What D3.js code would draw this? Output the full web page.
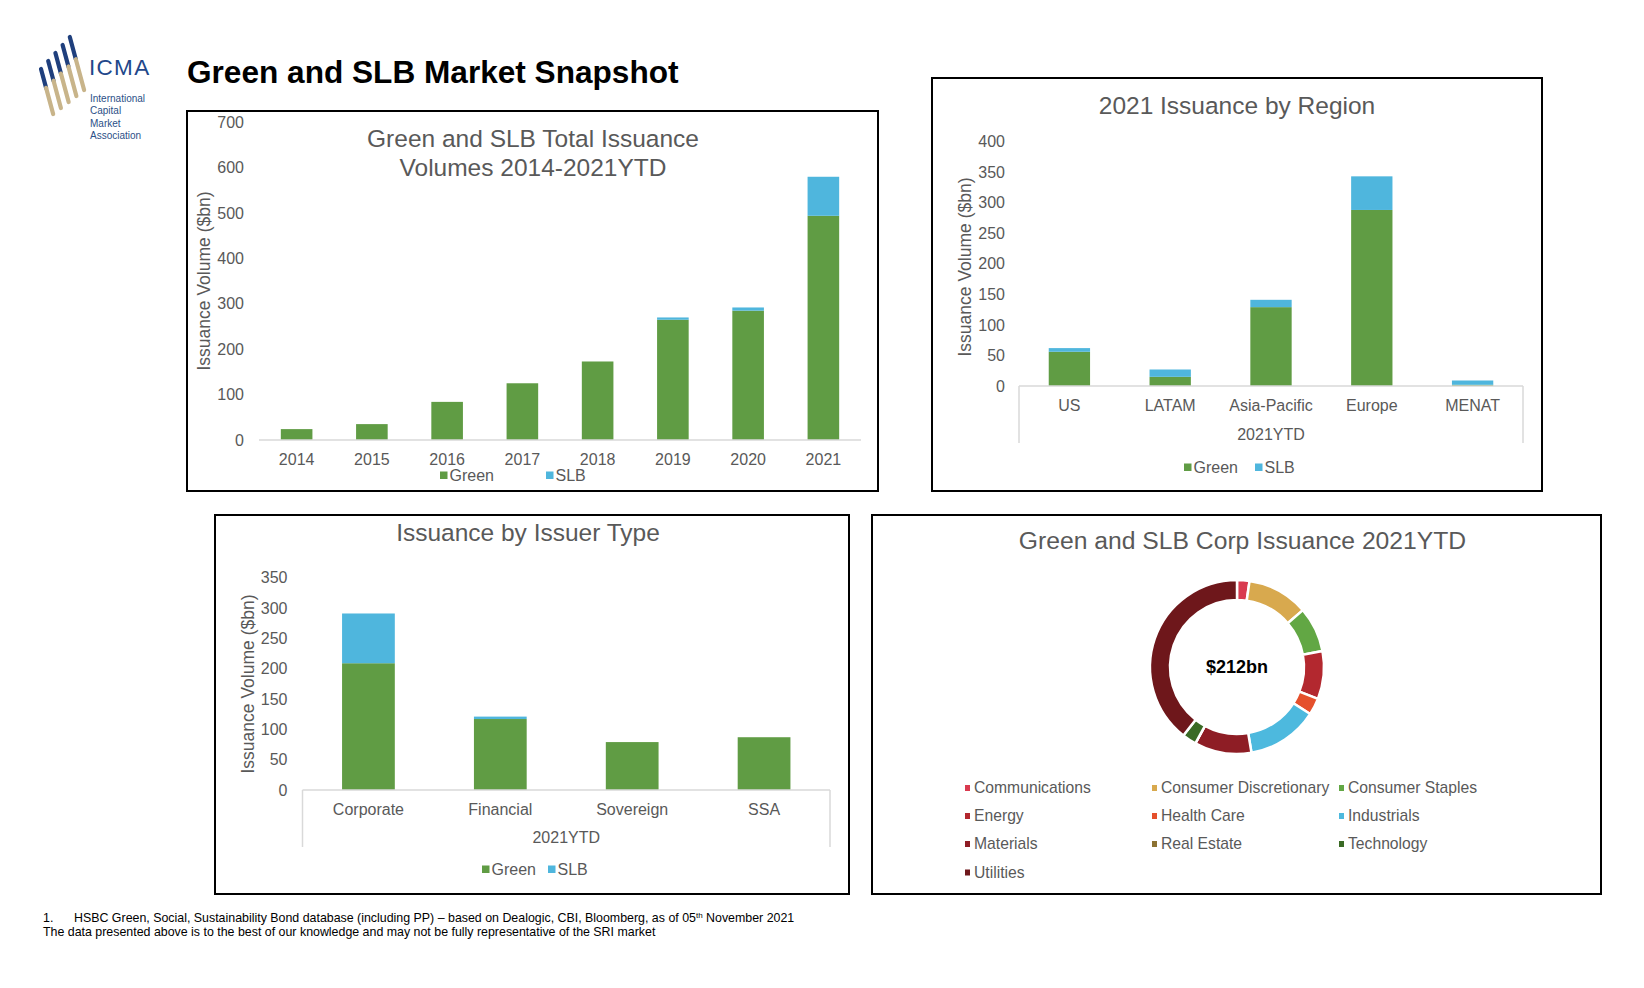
<!doctype html>
<html>
<head>
<meta charset="utf-8">
<script src="https://d3js.org/d3.v7.min.js"></script>
<style>
body { margin: 0; background: #fff; }
</style>
</head>
<body>
<svg id="page" width="1644" height="988"></svg>
<script>
// ---- data ----
var years = ["2014", "2015", "2016", "2017", "2018", "2019", "2020", "2021"];
var yearGreen = [24, 35, 84, 125, 173, 265, 285, 494];
var yearSlb = [0, 0, 0, 0, 0, 5, 7, 86];
var yearTicks = [0, 100, 200, 300, 400, 500, 600, 700];

var regions = ["US", "LATAM", "Asia-Pacific", "Europe", "MENAT"];
var regionGreen = [56, 15, 129, 288, 2];
var regionSlb = [6, 12, 12, 55, 7];
var regionTicks = [0, 50, 100, 150, 200, 250, 300, 350, 400];

var issuers = ["Corporate", "Financial", "Sovereign", "SSA"];
var issuerGreen = [209, 117, 79, 87];
var issuerSlb = [82, 4, 0, 0];
var issuerTicks = [0, 50, 100, 150, 200, 250, 300, 350];

var sectors = ["Communications", "Consumer Discretionary", "Consumer Staples", "Energy",
  "Health Care", "Industrials", "Materials", "Real Estate", "Technology", "Utilities"];
var sectorValues = [4.9, 24.1, 17.8, 18.9, 6.6, 28.1, 22.5, 0, 5.6, 83.6];
var sectorColors = ["#d93a4f", "#d8a94e", "#62a744", "#b3282f", "#e5502c",
  "#4db9de", "#8e1d25", "#8c7232", "#3a6a25", "#6e171b"];

var FONT = "'Liberation Sans', Arial, sans-serif";
var GREEN = "#609c44", SLB = "#4fb6dd", GREY = "#595959", AXIS = "#d9d9d9";

var svg = d3.select("#page").style("font-family", FONT);
svg.append("rect").attr("width", 1644).attr("height", 988).attr("fill", "#fff");

// ---- logo ----
var logo = svg.append("g");
d3.range(5).forEach(function(i) {
  var xt = 41 + 7.2 * i, yt = 69 - 8 * i;
  var len = 45 + 2 * i;
  var dx = 0.27, split = 0.42;
  var xm = xt + dx * len * split, ym = yt + len * split;
  logo.append("line").attr("x1", xt).attr("y1", yt).attr("x2", xm).attr("y2", ym)
    .attr("stroke", "#1f3f7d").attr("stroke-width", 4.2).attr("stroke-linecap", "round");
  logo.append("line").attr("x1", xm).attr("y1", ym).attr("x2", xt + dx * len).attr("y2", yt + len)
    .attr("stroke", "#c8b48a").attr("stroke-width", 4.2).attr("stroke-linecap", "round");
});
logo.append("text").attr("x", 89).attr("y", 75).attr("font-size", 22.5).attr("letter-spacing", 1.3)
  .attr("fill", "#22478a").text("ICMA");
["International", "Capital", "Market", "Association"].forEach(function(t, i) {
  logo.append("text").attr("x", 90).attr("y", 102 + i * 12.3).attr("font-size", 10)
    .attr("fill", "#2b4f87").text(t);
});

svg.append("text").attr("x", 187).attr("y", 83).attr("font-size", 31.6).attr("font-weight", "bold")
  .attr("fill", "#000").text("Green and SLB Market Snapshot");

// ---- helpers ----
function box(x, y, w, h) {
  svg.append("rect").attr("x", x).attr("y", y).attr("width", w).attr("height", h)
    .attr("fill", "none").attr("stroke", "#000").attr("stroke-width", 2);
}

function legend(items, y) {
  items.forEach(function(it) {
    svg.append("rect").attr("x", it.x).attr("y", y - 3.5).attr("width", 7.5).attr("height", 7.5)
      .attr("fill", it.color);
    svg.append("text").attr("x", it.x + 9.5).attr("y", y).attr("dy", "0.35em")
      .attr("font-size", 16).attr("fill", GREY).text(it.label);
  });
}

function barChart(o) {
  var table = o.cats.map(function(c, i) { return {cat: c, Green: o.green[i], SLB: o.slb[i]}; });
  var series = d3.stack().keys(["Green", "SLB"])(table);
  var x = d3.scaleBand().domain(o.cats).range([o.left, o.right])
    .paddingInner(o.pad).paddingOuter(o.pad / 2);
  var y = d3.scaleLinear().domain([0, o.max]).range([o.zero, o.top]);
  var g = svg.append("g");

  g.append("g").attr("transform", "translate(" + o.tickX + ",0)")
    .call(d3.axisLeft(y).tickValues(o.ticks).tickSize(0).tickPadding(0))
    .call(function(a) { a.select(".domain").remove(); })
    .attr("font-family", FONT).attr("font-size", 16)
    .selectAll("text").attr("fill", GREY);

  g.append("g").selectAll("g").data(series).join("g")
    .attr("fill", function(d) { return d.key === "Green" ? GREEN : SLB; })
    .selectAll("rect").data(function(d) { return d; }).join("rect")
    .attr("x", function(d) { return x(d.data.cat); })
    .attr("width", x.bandwidth())
    .attr("y", function(d) { return y(d[1]); })
    .attr("height", function(d) { return y(d[0]) - y(d[1]); });

  g.append("line").attr("x1", o.left).attr("x2", o.right).attr("y1", o.zero).attr("y2", o.zero)
    .attr("stroke", AXIS).attr("stroke-width", 1.5);
  if (o.edgeBottom) {
    [o.left, o.right].forEach(function(xx) {
      g.append("line").attr("x1", xx).attr("x2", xx).attr("y1", o.zero).attr("y2", o.edgeBottom)
        .attr("stroke", AXIS).attr("stroke-width", 1.5);
    });
  }

  g.append("g").attr("transform", "translate(0," + (o.labelBase - 11.4) + ")")
    .call(d3.axisBottom(x).tickSize(0).tickPadding(0))
    .call(function(a) { a.select(".domain").remove(); })
    .attr("font-family", FONT).attr("font-size", 16)
    .selectAll("text").attr("fill", GREY);

  if (o.groupLabel) {
    g.append("text").attr("x", (o.left + o.right) / 2).attr("y", o.groupBase)
      .attr("text-anchor", "middle").attr("font-size", 16).attr("fill", GREY).text(o.groupLabel);
  }

  g.append("text").attr("transform", "translate(" + o.yLabelX + "," + o.yLabelY + ")rotate(-90)")
    .attr("text-anchor", "middle").attr("dy", "0.35em").attr("font-size", o.yLabelSize)
    .attr("fill", GREY).text("Issuance Volume ($bn)");

  o.title.forEach(function(t, i) {
    g.append("text").attr("x", o.titleX).attr("y", o.titleY + i * 29).attr("text-anchor", "middle")
      .attr("font-size", 24.5).attr("fill", GREY).text(t);
  });
}

// ---- panel 1: total issuance by year ----
box(187, 111, 691, 380);
barChart({
  cats: years, green: yearGreen, slb: yearSlb, ticks: yearTicks, max: 700,
  left: 259, right: 861, pad: 0.58, zero: 440, top: 122.3, tickX: 244,
  labelBase: 465, yLabelX: 204, yLabelY: 281, yLabelSize: 17.5,
  title: ["Green and SLB Total Issuance", "Volumes 2014-2021YTD"], titleX: 533, titleY: 147
});
legend([{x: 440, color: GREEN, label: "Green"}, {x: 546, color: SLB, label: "SLB"}], 475);

// ---- panel 2: by region ----
box(932, 78, 610, 413);
barChart({
  cats: regions, green: regionGreen, slb: regionSlb, ticks: regionTicks, max: 400,
  left: 1019, right: 1523, pad: 0.59, zero: 386, top: 141.5, tickX: 1005,
  labelBase: 411, edgeBottom: 443, groupLabel: "2021YTD", groupBase: 440,
  yLabelX: 965, yLabelY: 267, yLabelSize: 17.5,
  title: ["2021 Issuance by Region"], titleX: 1237, titleY: 114
});
legend([{x: 1184, color: GREEN, label: "Green"}, {x: 1255, color: SLB, label: "SLB"}], 467);

// ---- panel 3: by issuer type ----
box(215, 515, 634, 379);
barChart({
  cats: issuers, green: issuerGreen, slb: issuerSlb, ticks: issuerTicks, max: 350,
  left: 302.5, right: 830, pad: 0.6, zero: 790, top: 577.7, tickX: 287.5,
  labelBase: 815, edgeBottom: 847, groupLabel: "2021YTD", groupBase: 843,
  yLabelX: 247.5, yLabelY: 684, yLabelSize: 17.5,
  title: ["Issuance by Issuer Type"], titleX: 528, titleY: 541
});
legend([{x: 482, color: GREEN, label: "Green"}, {x: 548, color: SLB, label: "SLB"}], 869);

// ---- panel 4: corporate sectors donut ----
box(872, 515, 729, 379);
svg.append("text").attr("x", 1242.5).attr("y", 549).attr("text-anchor", "middle")
  .attr("font-size", 24.7).attr("fill", GREY).text("Green and SLB Corp Issuance 2021YTD");

var pie = d3.pie().sort(null).value(function(d) { return d; });
var arc = d3.arc().innerRadius(67).outerRadius(87);
var donut = svg.append("g").attr("transform", "translate(1237,667)");
donut.selectAll("path").data(pie(sectorValues)).join("path")
  .attr("d", arc)
  .attr("fill", function(d, i) { return sectorColors[i]; })
  .attr("stroke", "#fff").attr("stroke-width", 2.5);
donut.append("text").attr("text-anchor", "middle").attr("dy", "0.35em")
  .attr("font-size", 18).attr("font-weight", "bold").attr("fill", "#000")
  .text("$" + Math.round(d3.sum(sectorValues)) + "bn");

var colX = [965, 1152, 1339], rowY = [788, 816, 844, 872.5];
sectors.forEach(function(s, i) {
  var cx = colX[i % 3], cy = rowY[Math.floor(i / 3)];
  svg.append("rect").attr("x", cx).attr("y", cy - 3).attr("width", 5).attr("height", 6)
    .attr("fill", sectorColors[i]);
  svg.append("text").attr("x", cx + 9).attr("y", cy).attr("dy", "0.35em")
    .attr("font-size", 15.7).attr("fill", GREY).text(s);
});

// ---- footnote ----
var fn = svg.append("g").attr("font-size", 12.4).attr("fill", "#000");
fn.append("text").attr("x", 43).attr("y", 922).text("1.");
var l1 = fn.append("text").attr("x", 74).attr("y", 922);
l1.append("tspan").text("HSBC Green, Social, Sustainability Bond database (including PP) \u2013 based on Dealogic, CBI, Bloomberg, as of 05");
l1.append("tspan").attr("font-size", 8).attr("dy", -4).text("th");
l1.append("tspan").attr("dy", 4).text(" November 2021");
fn.append("text").attr("x", 43).attr("y", 936).text("The data presented above is to the best of our knowledge and may not be fully representative of the SRI market");
</script>
</body>
</html>
